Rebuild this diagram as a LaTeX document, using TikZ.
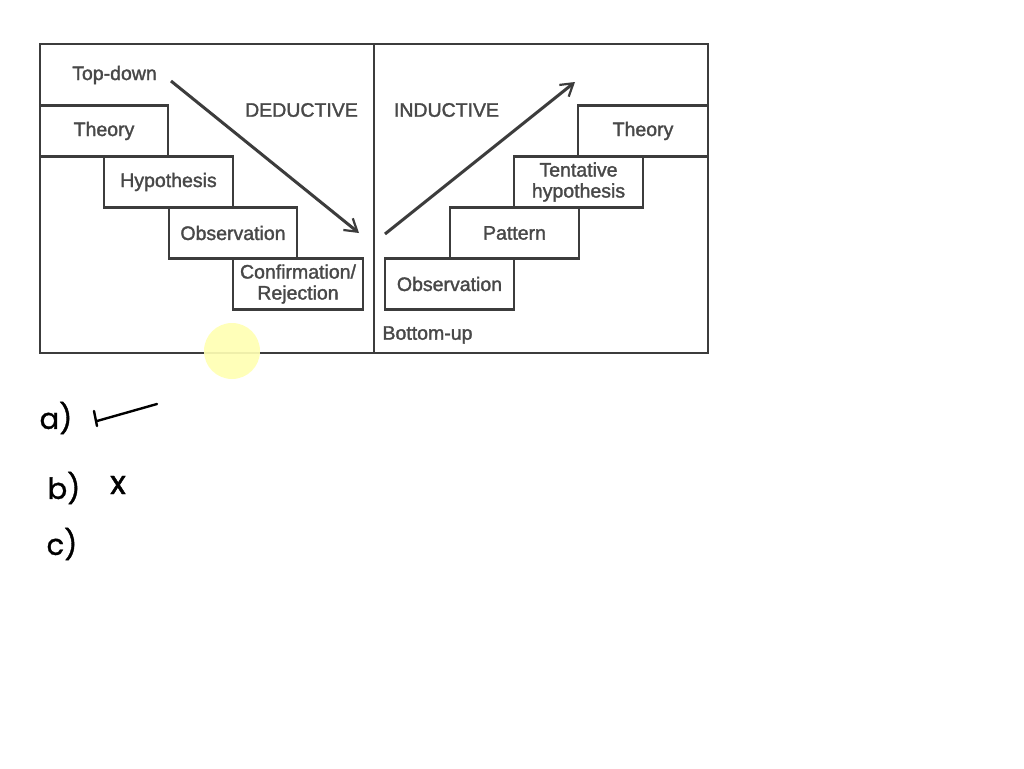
\documentclass[tikz,border=0pt]{standalone}
\usepackage{fontspec}
\setmainfont[FakeBold=1.6]{Liberation Sans}
\newfontfamily\diagfont[FakeBold=1.6]{Liberation Sans}
\newfontfamily\handfont[FakeBold=1.2]{Poppins}
\usetikzlibrary{arrows.meta}
\definecolor{ink}{HTML}{3C3C3C}
\definecolor{txt}{HTML}{484848}
\definecolor{marker}{HTML}{FFFFB4}
\tikzset{
  frameline/.style={draw=ink,line width=2.8pt},
  stepbox/.style={draw=ink,line width=2.8pt,fill=white,inner sep=0pt,outer sep=0pt,minimum height=51pt,align=center,text=txt,font=\diagfont\fontsize{19.5}{22}\selectfont},
  lbl/.style={inner sep=0pt,text=txt,font=\diagfont\fontsize{19.5}{22}\selectfont},
  flow/.style={draw=ink,line width=3pt,-{Straight Barb[length=12pt,width=15pt,line width=2.2pt]}},
  hand/.style={inner sep=0pt,text=black,font=\handfont\fontsize{29}{32}\selectfont},
  pen/.style={draw=black,line width=2.4pt,line cap=round,line join=round}
}
\begin{document}
\begin{tikzpicture}[x=1pt,y=-1pt]
\useasboundingbox (0,0) rectangle (1024,768);
\fill[white] (0,0) rectangle (1024,768);
\draw[frameline] (40,44) rectangle (708,353);
\draw[frameline] (374,44) -- (374,353);
% deductive
\node[stepbox,minimum width=128pt] (dt) at (104,131) {Theory};
\node[stepbox,minimum width=129pt] (dh) at (168.5,182) {Hypothesis};
\node[stepbox,minimum width=128pt] (do) at (233,233) {Observation};
\node[stepbox,minimum width=130pt] (dc) at (298,284) {Confirmation/\\[-1pt]Rejection};
\node[lbl] (td) at (114.5,75) {Top-down};
\node[lbl] (ded) at (301.5,110) {DEDUCTIVE};
\coordinate (a1s) at (171,81);
\coordinate (a1e) at (359,233);
\draw[flow] (a1s) -- (a1e);
% inductive
\node[stepbox,minimum width=129pt] (io) at (449.5,284) {Observation};
\node[stepbox,minimum width=129pt] (ip) at (514.5,233) {Pattern};
\node[stepbox,minimum width=129pt] (ih) at (578.5,182) {Tentative\\[-1pt]hypothesis};
\node[stepbox,minimum width=130pt] (it) at (643,131) {Theory};
\node[lbl] (ind) at (446.5,110) {INDUCTIVE};
\node[lbl] (bu) at (427.5,335) {Bottom-up};
\coordinate (a2s) at (385,234);
\coordinate (a2e) at (575,82);
\draw[flow] (a2s) -- (a2e);
% highlight
\fill[marker,opacity=0.92] (232,351) circle (28);
% handwritten
\node[hand] (la) at (56,418) {a)};
\node[hand] (lb) at (64,488) {b)};
\node[hand] (lc) at (62,544) {c)};
\node[hand,font=\handfont\fontsize{33}{36}\selectfont] (lx) at (118,485) {x};
\coordinate (c1) at (94,411);
\coordinate (c2) at (97,426);
\coordinate (c3) at (97,421);
\coordinate (c4) at (157,404);
\draw[pen] (c1) -- (c2);
\draw[pen] (c3) -- (c4);
\end{tikzpicture}
\end{document}
